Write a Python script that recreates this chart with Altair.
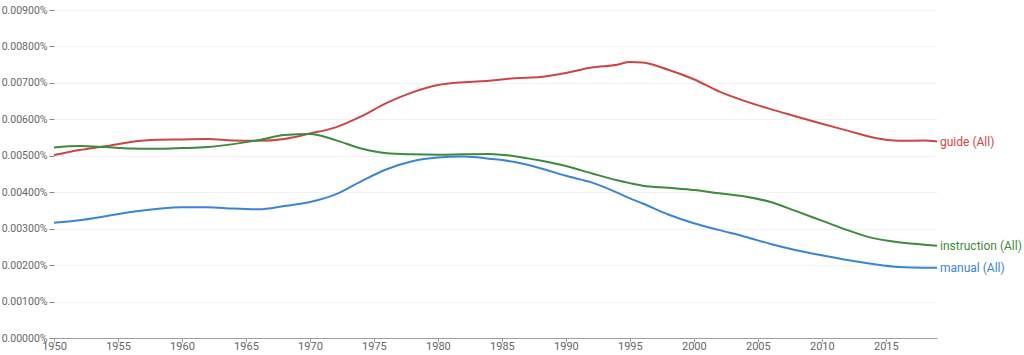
import altair as alt
import pandas as pd

years = [1950, 1952, 1954, 1956, 1958, 1960, 1962, 1964, 1966, 1968, 1970, 1972,
         1974, 1976, 1978, 1980, 1982, 1984, 1986, 1988, 1990, 1992, 1994, 1995,
         1996, 1998, 2000, 2002, 2004, 2006, 2008, 2010, 2012, 2014, 2016, 2018, 2019]

# values in thousandths of a percent (0.001%)
guide = [5.02, 5.16, 5.26, 5.38, 5.44, 5.45, 5.46, 5.42, 5.41, 5.46, 5.61, 5.78,
         6.08, 6.45, 6.74, 6.94, 7.02, 7.06, 7.13, 7.16, 7.27, 7.42, 7.50, 7.57,
         7.56, 7.36, 7.10, 6.76, 6.50, 6.28, 6.08, 5.88, 5.69, 5.50, 5.41, 5.42, 5.39]
instruction = [5.23, 5.27, 5.24, 5.20, 5.19, 5.21, 5.24, 5.32, 5.43, 5.57, 5.60, 5.43,
               5.20, 5.07, 5.04, 5.03, 5.04, 5.05, 4.99, 4.87, 4.72, 4.52, 4.33, 4.25,
               4.18, 4.12, 4.06, 3.97, 3.88, 3.73, 3.48, 3.22, 2.96, 2.74, 2.63, 2.56, 2.53]
manual = [3.16, 3.23, 3.34, 3.46, 3.54, 3.59, 3.59, 3.55, 3.53, 3.62, 3.73, 3.94,
          4.30, 4.63, 4.85, 4.95, 4.98, 4.92, 4.83, 4.66, 4.45, 4.27, 3.99, 3.83,
          3.69, 3.39, 3.15, 2.96, 2.78, 2.58, 2.41, 2.27, 2.14, 2.03, 1.95, 1.93, 1.93]

series_names = ["guide (All)", "instruction (All)", "manual (All)"]
series_colors = ["#cc4545", "#3c8a3c", "#3a85d3"]
x_ticks = [1950, 1955, 1960, 1965, 1970, 1975, 1980, 1985, 1990, 1995, 2000, 2005, 2010, 2015]
y_ticks = [0, 1, 2, 3, 4, 5, 6, 7, 8, 9]

rows = []
for name, vals in zip(series_names, [guide, instruction, manual]):
    for y, v in zip(years, vals):
        rows.append({"year": y, "value": v, "series": name})
df = pd.DataFrame(rows)
last = df[df["year"] == years[-1]]

color = alt.Color("series:N", scale=alt.Scale(domain=series_names, range=series_colors), legend=None)

x = alt.X("year:Q", scale=alt.Scale(domain=[1950, 2019], nice=False, zero=False),
          axis=alt.Axis(values=x_ticks, format="d", title=None, grid=False,
                        domainColor="#9e9e9e", tickColor="#9e9e9e", tickSize=4,
                        labelColor="#666666", labelFontSize=11, labelFont="Roboto",
                        labelPadding=-2, labelFlush=False, labelOverlap=False))
y = alt.Y("value:Q", scale=alt.Scale(domain=[0, 9], nice=False),
          axis=alt.Axis(values=y_ticks, title=None, domain=False,
                        labelExpr="format(datum.value / 1000, '.5f') + '%'",
                        gridColor="#f2f2f2", tickColor="#888888", tickSize=5,
                        labelColor="#666666", labelFontSize=10.5, labelFont="Roboto",
                        labelPadding=2, labelOverlap=False))

lines = alt.Chart(df).mark_line(interpolate="monotone", strokeWidth=2).encode(
    x=x, y=y, color=color, detail="series:N")

labels = alt.Chart(last).mark_text(align="left", baseline="middle", dx=3, fontSize=12,
                                   font="Roboto").encode(
    x=x, y=y, text="series:N", color=color)

chart = (lines + labels).properties(
    width=883, height=328,
    autosize=alt.AutoSizeParams(type="none"),
    padding={"left": 54, "top": 10, "right": 87, "bottom": 17},
).configure_view(stroke=None)

chart.save("out.html", embed_options={"renderer": "svg", "actions": False})
